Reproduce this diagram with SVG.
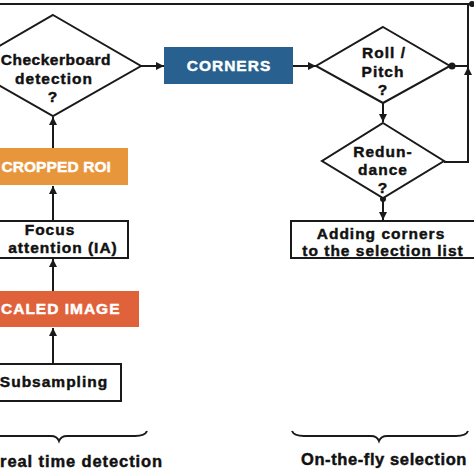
<svg xmlns="http://www.w3.org/2000/svg" width="474" height="474" viewBox="0 0 474 474">
<defs>
<marker id="ah" viewBox="0 0 10 10" refX="10" refY="5" markerWidth="8" markerHeight="8" markerUnits="userSpaceOnUse" orient="auto">
<path d="M0,0 L10,5 L0,10 z" fill="#1a1a1a"/>
</marker>
<style>
.t{font-family:"Liberation Sans",Arial,sans-serif;font-weight:bold;font-size:15.5px;letter-spacing:1px;fill:#111;stroke:#111;stroke-width:0.45px;text-anchor:middle}
.w{fill:#fff;stroke:#fff}
.lb{font-family:"Liberation Sans",Arial,sans-serif;font-weight:bold;font-size:16.5px;fill:#111;stroke:#111;stroke-width:0.45px}
.box{fill:#fff;stroke:#1a1a1a;stroke-width:2}
.dia{fill:#fff;stroke:#1a1a1a;stroke-width:2}
.ln{fill:none;stroke:#1a1a1a;stroke-width:2}
.ar{fill:none;stroke:#1a1a1a;stroke-width:2;marker-end:url(#ah)}
.dot{fill:#1a1a1a}
</style>
</defs>
<rect width="474" height="474" fill="#fff"/>

<g id="connectors">
<path class="ar" d="M53,364 V328"/>
<path class="ar" d="M53,291 V259"/>
<path class="ar" d="M53,221 V186"/>
<path class="ar" d="M53,148 V117"/>
<path class="ar" d="M141,66 H164"/>
<path class="ar" d="M293,66 H316"/>
<path class="ar" d="M383,103 V122"/>
<path class="ar" d="M383,199 V220"/>
<path class="ln" d="M452,66 H468"/>
<path class="ar" d="M444,162 H468 V67"/>
<path class="ln" d="M468,68 V4 H0"/>
<path class="ln" d="M468,4 H474"/>
<circle class="dot" cx="452" cy="66" r="3.5"/>
<circle class="dot" cx="383" cy="199" r="3"/>
<circle class="dot" cx="472" cy="4" r="3"/>
</g>

<g id="subsampling">
<rect class="box" x="-15" y="364" width="136" height="37"/>
<text class="t" x="54" y="387">Subsampling</text>
</g>

<g id="scaled-image">
<rect x="-33" y="291" width="172" height="36" fill="#E0623A"/>
<text class="t w" x="1" y="314" style="text-anchor:start">CALED IMAGE</text>
</g>

<g id="focus-attention">
<rect class="box" x="-1" y="221" width="129" height="37"/>
<text class="t" x="50" y="235">Focus</text>
<text class="t" x="63" y="253">attention (IA)</text>
</g>

<g id="cropped-roi">
<rect x="-22" y="148" width="150" height="37" fill="#E8963C"/>
<text class="t w" x="111" y="172" style="text-anchor:end;letter-spacing:0.1px">CROPPED ROI</text>
</g>

<g id="checkerboard">
<polygon class="dia" points="53,15 141,66 53,116 -35,66"/>
<text class="t" x="111" y="65" style="text-anchor:end;letter-spacing:0.5px">Checkerboard</text>
<text class="t" x="54" y="84">detection</text>
<text class="t" x="53" y="102">?</text>
</g>

<g id="corners">
<rect x="164" y="47" width="129" height="37" fill="#28618F"/>
<text class="t w" x="229" y="71">CORNERS</text>
</g>

<g id="roll-pitch">
<polygon class="dia" points="383,27 450,66 383,103 316,66"/>
<text class="t" x="384" y="58">Roll /</text>
<text class="t" x="383" y="77">Pitch</text>
<text class="t" x="383" y="95">?</text>
</g>

<g id="redundance">
<polygon class="dia" points="383,123 444,161 383,198 322,161"/>
<text class="t" x="383" y="157">Redun-</text>
<text class="t" x="383" y="175">dance</text>
<text class="t" x="383" y="193">?</text>
</g>

<g id="adding-corners">
<rect class="box" x="291" y="221" width="186" height="37"/>
<text class="t" x="381" y="239">Adding corners</text>
<text class="t" x="383" y="256">to the selection list</text>
</g>

<g id="brace-left">
<path class="ln" d="M-10,431 Q-8,436 2,436 L51,436 Q57,436 59,441 Q61,436 67,436 L135,436 Q145,436 147,431" stroke-width="1.8"/>
<text class="lb" x="163" y="467" style="text-anchor:end;letter-spacing:0.9px">real time detection</text>
</g>

<g id="brace-right">
<path class="ln" d="M292,431 Q294,436 304,436 L371,436 Q377,436 379,441 Q381,436 387,436 L456,436 Q466,436 468,431" stroke-width="1.8"/>
<text class="lb" x="384" y="465" style="text-anchor:middle;letter-spacing:0.6px">On-the-fly selection</text>
</g>
</svg>
